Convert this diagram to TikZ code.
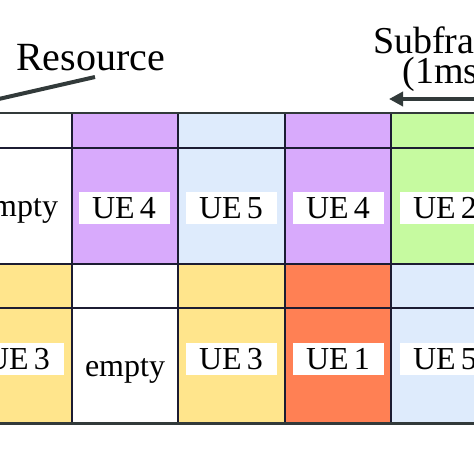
\documentclass[tikz,border=0pt]{standalone}
\usepackage{fontspec}
\setmainfont{Liberation Serif}
\usetikzlibrary{arrows.meta}
\definecolor{cpurple}{RGB}{216,170,252}
\definecolor{cblue}{RGB}{222,235,252}
\definecolor{cgreen}{RGB}{198,250,160}
\definecolor{cyellow}{RGB}{255,229,140}
\definecolor{corange}{RGB}{255,128,84}
\definecolor{cgrid}{RGB}{28,28,50}
\definecolor{cdark}{RGB}{50,58,58}
\tikzset{
  x=1pt,y=-1pt,
  cell/.style={draw=cgrid,line width=1.8pt},
  uelabel/.style={fill=white,minimum width=91pt,minimum height=32pt,inner sep=0pt,font=\fontsize{32}{34}\selectfont},
  emptylabel/.style={inner sep=0pt,font=\fontsize{32}{34}\selectfont},
  bigtext/.style={inner sep=0pt,font=\fontsize{40}{40}\selectfont,align=center},
  pointer/.style={draw=cdark,line width=4pt}
}
\begin{document}
\begin{tikzpicture}
\useasboundingbox (0,0) rectangle (474,474);
\clip (0,0) rectangle (474,474);
\fill[white] (0,0) rectangle (474,474);
% column fills
\fill[white]   (-34.5,113) rectangle (72,264);
\fill[cyellow] (-34.5,264) rectangle (72,423);
\fill[cpurple] (72,113) rectangle (178,264);
\fill[white]   (72,264) rectangle (178,423);
\fill[cblue]   (178,113) rectangle (285,264);
\fill[cyellow] (178,264) rectangle (285,423);
\fill[cpurple] (285,113) rectangle (391,264);
\fill[corange] (285,264) rectangle (391,423);
\fill[cgreen]  (391,113) rectangle (497.5,264);
\fill[cblue]   (391,264) rectangle (497.5,423);
% grid lines
\foreach \x in {72,178,285,391} \draw[cell] (\x,113) -- (\x,423);
\foreach \y in {148,264,308} \draw[cell] (-40,\y) -- (500,\y);
\draw[draw=cdark,line width=2.2pt] (-40,113) -- (500,113);
\draw[draw=cdark,line width=3pt] (-40,423) -- (500,423);
% labels
\node[emptylabel,anchor=base] (e1) at (18,216) {empty};
\node[uelabel] (u4a) at (124,208) {UE\,4};
\node[uelabel] (u5a) at (231,208) {UE\,5};
\node[uelabel] (u4b) at (338,208) {UE\,4};
\node[uelabel] (u2) at (445,208) {UE\,2};
\node[uelabel] (u3a) at (18,359) {UE\,3};
\node[emptylabel,anchor=base] (e2) at (125,376) {empty};
\node[uelabel] (u3b) at (231,359) {UE\,3};
\node[uelabel] (u1) at (338,359) {UE\,1};
\node[uelabel] (u5b) at (445,359) {UE\,5};
% texts
\node[bigtext,anchor=base west] (res) at (16,70) {Resource};
\coordinate (resend) at (95,77);
\coordinate (resstart) at (-10,101);
\draw[pointer] (resstart) -- (resend);
\node[bigtext,anchor=base,font=\fontsize{38}{38}\selectfont] (sub) at (447,53) {Subframe};
\node[bigtext,anchor=base,font=\fontsize{38}{38}\selectfont] (ms) at (447,83) {(1ms)};
\coordinate (arrstart) at (510,99);
\coordinate (arrtip) at (389,99);
\draw[pointer,-{Triangle[length=14pt,width=14pt]}] (arrstart) -- (arrtip);
\end{tikzpicture}
\end{document}
